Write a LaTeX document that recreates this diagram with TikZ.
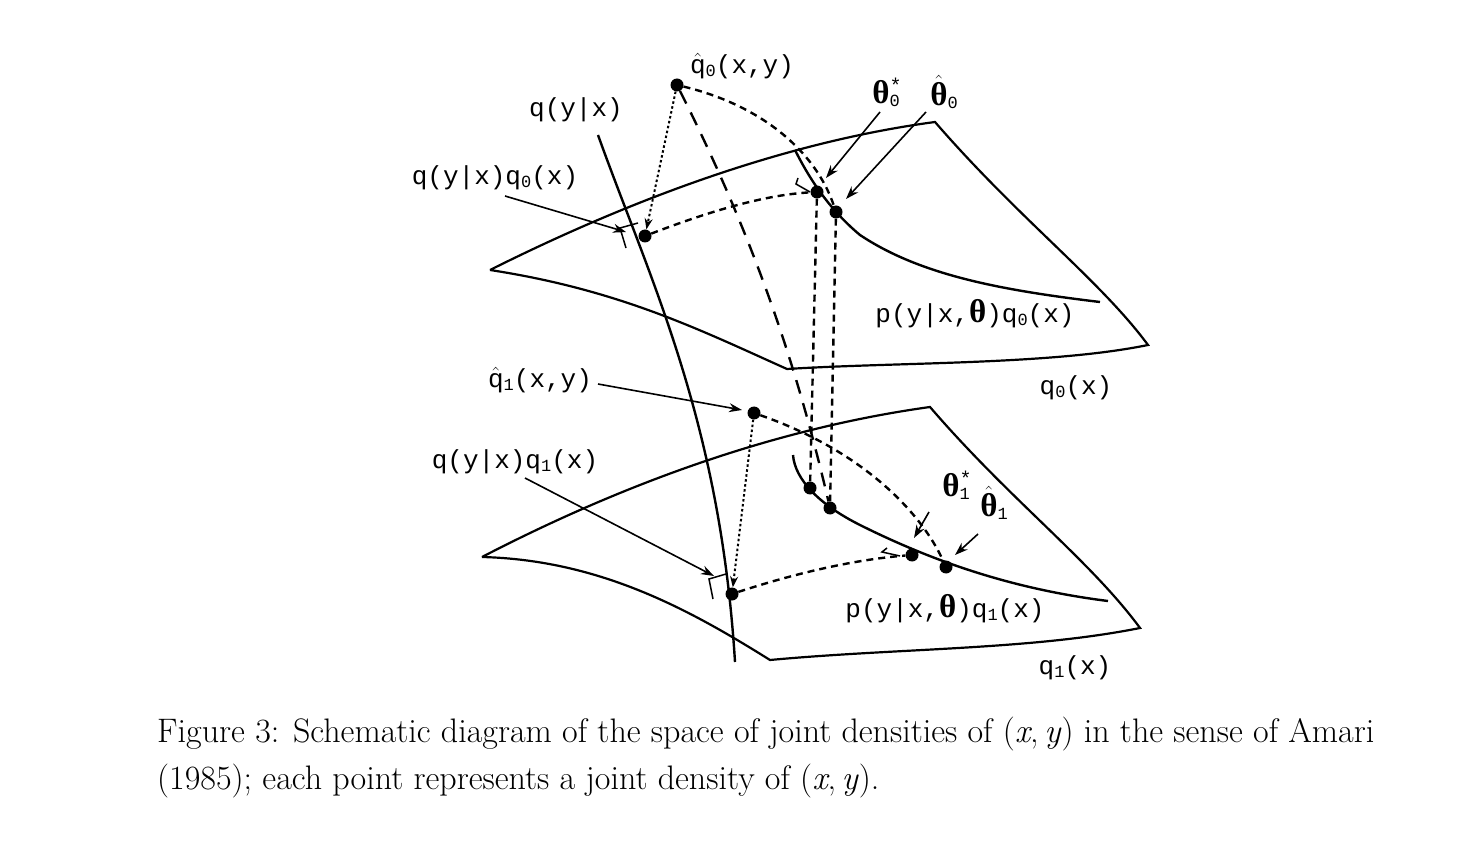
\documentclass[tikz,border=0pt]{standalone}
\usepackage{amsmath,amssymb}
\usepackage{fontspec}
\newfontfamily\lbl{Liberation Mono}
\newfontfamily\grk{Liberation Serif}
\usetikzlibrary{arrows.meta}
\newcommand{\sbs}[1]{\raisebox{-3pt}{\fontsize{17}{17}\selectfont #1}}
\newcommand{\qhat}{$\hat{\text{q}}$}
\newcommand{\tth}{{\grk\bfseries\fontsize{33}{33}\selectfont θ}}
\newcommand{\hth}{$\hat{\text{\grk\bfseries\fontsize{33}{33}\selectfont θ}}$}
\newcommand{\ssup}[2]{\rlap{\raisebox{11pt}{\fontsize{20}{20}\selectfont *}}\sbs{#2}}
\begin{document}
\begin{tikzpicture}[x=1pt,y=-1pt,
  surf/.style={line width=2.2pt,line join=miter},
  crv/.style={line width=2.4pt},
  dot/.style={circle,fill=black,inner sep=0pt,minimum size=13pt},
  dsh/.style={line width=2.4pt,dash pattern=on 7pt off 5pt},
  ldsh/.style={line width=2.4pt,dash pattern=on 14pt off 10pt},
  dtt/.style={line width=2pt,dash pattern=on 2.5pt off 2.5pt,-{Stealth[length=11pt,width=8pt]}},
  arr/.style={line width=1.6pt,-{Stealth[length=13pt,width=9pt]}},
  lab/.style={font=\lbl\fontsize{26}{28}\selectfont,inner sep=1pt},
  ra/.style={line width=1.5pt}]
\useasboundingbox (0,0) rectangle (1460,842);
% surfaces
\draw[surf] (490,270) .. controls (650,190) and (800,140) .. (935,122)
  .. controls (1020,220) and (1100,280) .. (1148,345)
  .. controls (1050,365) and (900,362) .. (787,369)
  .. controls (700,330) and (620,290) .. (490,270);
\draw[surf] (482,557) .. controls (650,470) and (800,425) .. (930,407)
  .. controls (1010,500) and (1090,560) .. (1140,628)
  .. controls (1030,650) and (900,648) .. (770,660)
  .. controls (690,610) and (600,560) .. (482,557);
% curves
\draw[crv] (598,135) .. controls (650,280) and (720,420) .. (735,662);
\draw[crv] (795,150) .. controls (810,180) and (830,210) .. (860,235) .. controls (920,275) and (1000,290) .. (1100,302);
\draw[crv] (793,455) .. controls (795,480) and (820,505) .. (860,525) .. controls (940,565) and (1020,590) .. (1108,601);
% points
\node[dot] (q0) at (677,85) {};
\node[dot] (a0) at (645,236) {};
\node[dot] (t0s) at (817,192) {};
\node[dot] (t0h) at (836,212) {};
\node[dot] (q1) at (754,413) {};
\node[dot] (a1) at (732,594) {};
\node[dot] (t1s) at (912,555) {};
\node[dot] (t1h) at (946,567) {};
\node[dot] (b1) at (810,488) {};
\node[dot] (b2) at (830,508) {};
% connectors
\draw[dsh] (q0) .. controls (760,105) and (815,150) .. (t0h);
\draw[ldsh] (q0) .. controls (760,250) and (800,380) .. (b2);
\draw[dsh] (t0s) -- (b1);
\draw[dsh] (t0h) -- (b2);
\draw[dsh] (a0) .. controls (700,215) and (760,195) .. (t0s);
\draw[dsh] (a1) .. controls (790,575) and (850,560) .. (t1s);
\draw[dsh] (q1) .. controls (860,450) and (920,510) .. (t1h);
\draw[dtt] (q0) -- (a0);
\draw[dtt] (q1) -- (a1);
% right angle marks
\draw[ra] (626,248) -- (620,228) -- (638,223);
\draw[ra] (713,599) -- (709,579) -- (726,574);
\draw[ra] (810,192) -- (796,184) -- (798,178);
\draw[ra] (900,556) -- (882,552) -- (887,548);
% labels
\node[lab] (lq0) at (742,66) {\qhat\sbs{0}(x,y)};
\node[lab] (lqyx) at (576,110) {q(y|x)};
\node[lab] (la0) at (495,178) {q(y|x)q\sbs{0}(x)};
\node[lab] (lt0s) at (886,92) {\tth\ssup{*}{0}};
\node[lab] (lt0h) at (944,92) {\hth\sbs{0}};
\node[lab] (lp0) at (975,314) {p(y|x,\tth)q\sbs{0}(x)};
\node[lab] (ls0) at (1076,388) {q\sbs{0}(x)};
\node[lab] (lq1) at (540,380) {\qhat\sbs{1}(x,y)};
\node[lab] (la1) at (515,462) {q(y|x)q\sbs{1}(x)};
\node[lab] (lt1s) at (956,485) {\tth\ssup{*}{1}};
\node[lab] (lt1h) at (994,503) {\hth\sbs{1}};
\node[lab] (lp1) at (945,609) {p(y|x,\tth)q\sbs{1}(x)};
\node[lab] (ls1) at (1075,668) {q\sbs{1}(x)};
% label arrows
\draw[arr] (505,196) -- (626,232);
\draw[arr] (880,112) -- (826,178);
\draw[arr] (926,112) -- (846,199);
\draw[arr] (598,384) -- (742,410);
\draw[arr] (525,478) -- (714,576);
\draw[arr] (929,512) -- (914,538);
\draw[arr] (978,534) -- (955,555);
% caption
\node[font=\fontsize{34}{47}\selectfont,align=left,anchor=north west,inner sep=0pt] (cap) at (157,717)
{Figure 3: Schematic diagram of the space of joint densities of (\textit{x},\,\textit{y}) in the sense of Amari\\
(1985); each point represents a joint density of (\textit{x},\,\textit{y}).};
\end{tikzpicture}
\end{document}
